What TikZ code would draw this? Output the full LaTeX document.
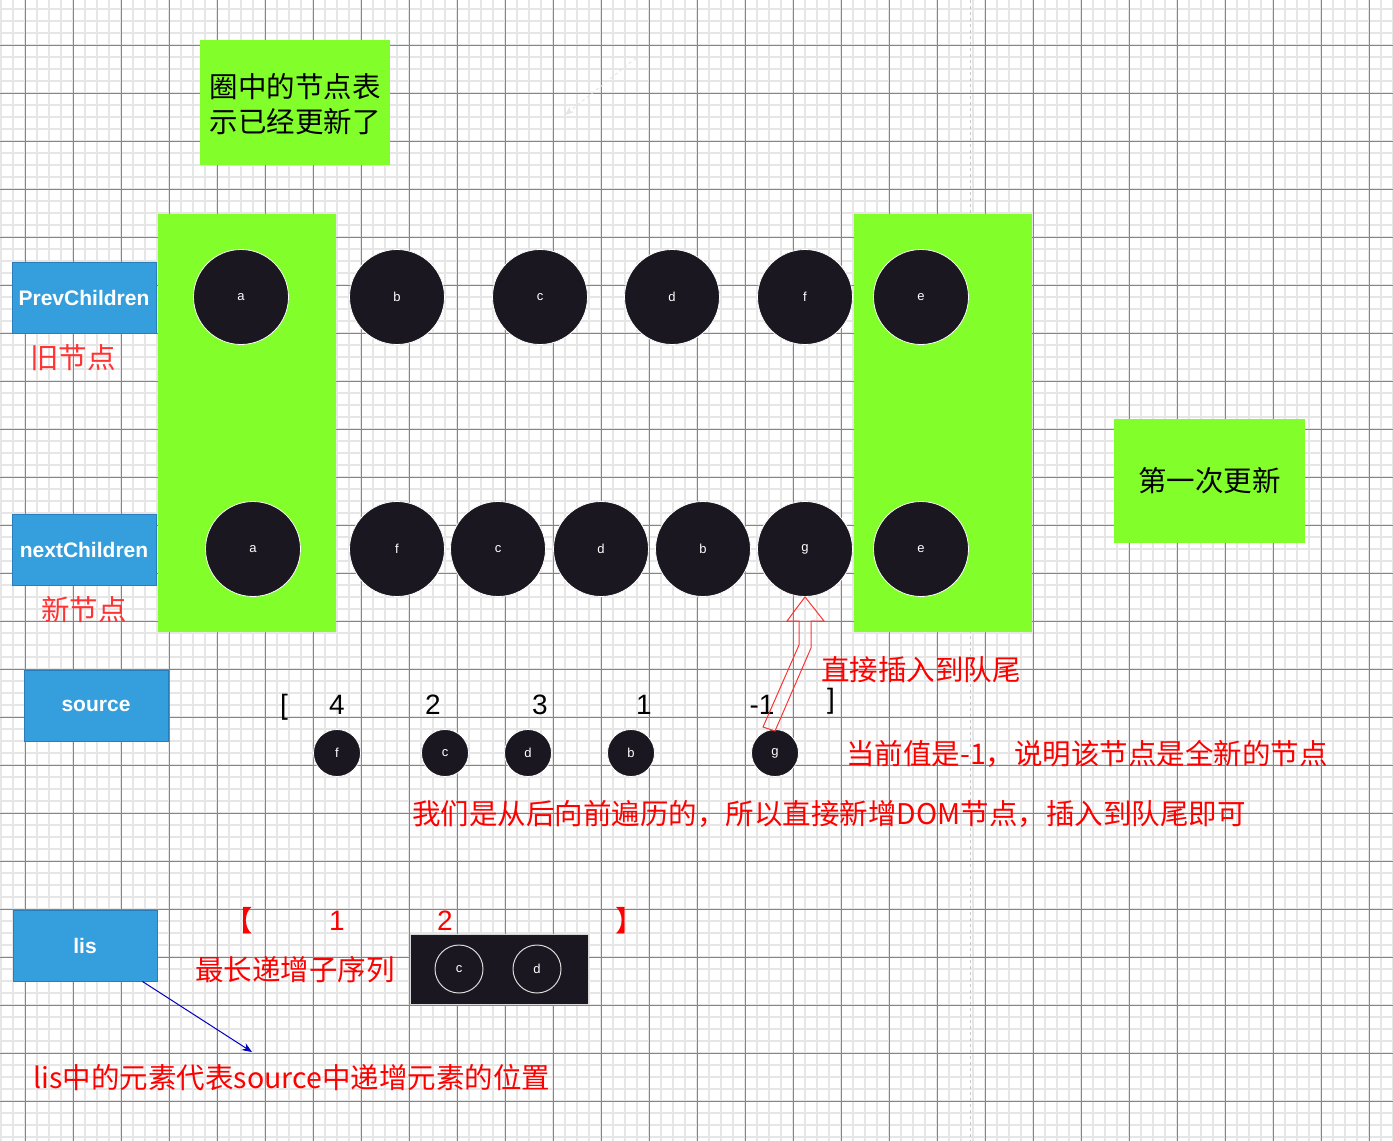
\documentclass[tikz,border=0pt]{standalone}
\usepackage{fontspec}
\setmainfont{Liberation Sans}
\newfontfamily\cjk{Noto Sans CJK SC}
\usetikzlibrary{arrows.meta,positioning}

\definecolor{leaf}{HTML}{82FF2A}
\definecolor{boxblue}{HTML}{359FDD}
\definecolor{boxedge}{HTML}{2A7DBA}
\definecolor{dotfill}{HTML}{1A1720}
\definecolor{gridmin}{HTML}{E6E6E6}
\definecolor{gridmaj}{HTML}{858585}
\definecolor{softred}{HTML}{FF3333}

\tikzset{
  greenbox/.style={fill=leaf, draw=none, inner sep=0pt},
  bluebox/.style={fill=boxblue, draw=boxedge, line width=1pt, text=white,
    minimum width=144pt, minimum height=71pt, inner sep=0pt,
    font=\fontsize{21}{25}\selectfont\bfseries},
  bigdot/.style={circle, fill=dotfill, draw=white, line width=0.8pt,
    minimum size=95pt, inner sep=0pt, text=white, font=\fontsize{13}{15}\selectfont},
  smalldot/.style={bigdot, minimum size=47pt},
  ringdot/.style={circle, draw=white!85!black, line width=1pt, fill=dotfill,
    minimum size=48pt, inner sep=0pt, text=white, font=\fontsize{13}{15}\selectfont},
  cjktext/.style={inner sep=0pt, font=\cjk\fontsize{28.5}{36}\selectfont},
  redtext/.style={cjktext, text=red},
  numtext/.style={inner sep=0pt, font=\fontsize{28}{32}\selectfont},
}

\begin{document}
\begin{tikzpicture}[x=1pt, y=-1pt]
\useasboundingbox (0,0) rectangle (1393,1141);
\fill[white] (0,0) rectangle (1393,1141);

% grid
\foreach \i in {0,...,116}
  \draw[gridmin, line width=1.6pt] (1+12*\i,0) -- (1+12*\i,1141);
\foreach \j in {0,...,94}
  \draw[gridmin, line width=1.6pt] (0,9+12*\j) -- (1393,9+12*\j);
\foreach \i in {0,...,28}
  \draw[gridmaj, line width=0.9pt] (25+48*\i,0) -- (25+48*\i,1141);
\foreach \j in {0,...,22}
  \draw[gridmaj, line width=0.9pt] (0,45+48*\j) -- (1393,45+48*\j);
\draw[black!22, dashed, line width=1pt] (970,0) -- (970,1141);

% faint pointer near the note
\coordinate (hintfrom) at (636,58);
\coordinate (hintto) at (565,115);
\draw[white!90!black, dashed, line width=1pt, -{Stealth[length=9pt]}] (hintfrom) -- (hintto);

% green areas
\node[greenbox, minimum width=190pt, minimum height=125pt] (note) at (295,102.5) {};
\node[align=left, inner sep=0pt, font=\cjk\fontsize{28.5}{35}\selectfont]
  (notetext) at (295,104.5) {圈中的节点表\\示已经更新了};
\node[greenbox, minimum width=178pt, minimum height=418pt] (colleft) at (247,423) {};
\node[greenbox, minimum width=178pt, minimum height=418pt] (colright) at (943,423) {};
\node[greenbox, minimum width=191pt, minimum height=124pt, font=\cjk\fontsize{28.5}{35}\selectfont] (first) at (1209.5,481) {第一次更新};

% labels on the left
\node[bluebox] (prev) at (84,297.5) {PrevChildren};
\node[cjktext, text=softred] (oldtag) at (73,358) {旧节点};
\node[bluebox] (next) at (84,549.5) {nextChildren};
\node[cjktext, text=softred] (newtag) at (84,610) {新节点};
\node[bluebox] (source) at (96,705.5) {source};
\node[bluebox] (lis) at (85,945.5) {lis};

% old children
\node[bigdot] (pa) at (241,297) {a};
\node[bigdot] (pb) at (397,297) {b};
\node[bigdot] (pc) at (540,297) {c};
\node[bigdot] (pd) at (672,297) {d};
\node[bigdot] (pf) at (805,297) {f};
\node[bigdot] (pe) at (921,297) {e};

% new children
\node[bigdot] (na) at (253,549) {a};
\node[bigdot] (nf) at (397,549) {f};
\node[bigdot] (nc) at (498,549) {c};
\node[bigdot] (nd) at (601,549) {d};
\node[bigdot] (nb) at (703,549) {b};
\node[bigdot] (ng) at (805,549) {g};
\node[bigdot] (ne) at (921,549) {e};

% source array
\node[numtext] (lbr) at (284,707) {[};
\node[numtext] (s4) at (337,705) {4};
\node[numtext] (s2) at (433,705) {2};
\node[numtext] (s3) at (540,705) {3};
\node[numtext] (s1) at (644,705) {1};
\node[numtext] (sm) at (762,705) {-1};
\node[numtext] (rbr) at (831,701) {]};
\node[smalldot] (sf) at (337,753) {f};
\node[smalldot] (sc) at (445,753) {c};
\node[smalldot] (sd) at (528,753) {d};
\node[smalldot] (sb) at (631,753) {b};
\node[smalldot] (sg) at (775,753) {g};

% hollow arrow up to g
\draw[red!80, line width=1pt, line join=miter]
  (763,727) -- (799,645) -- (799,621) -- (787,621) -- (ng.south)
  -- (824,621) -- (811,621) -- (811,648) -- (775,731) -- cycle;

% notes
\node[redtext] (tailnote) at (921,670) {直接插入到队尾};
\node[redtext] (minusnote) at (1087,754) {当前值是-1，说明该节点是全新的节点};
\node[redtext] (walknote) at (829,814) {我们是从后向前遍历的，所以直接新增DOM节点，插入到队尾即可};

% lis
\node[redtext] (llbr) at (239,921) {【};
\node[numtext, text=red] (l1) at (337,921) {1};
\node[numtext, text=red] (l2) at (445,921) {2};
\node[redtext] (lrbr) at (630,921) {】};
\node[redtext] (listag) at (295,970) {最长递增子序列};
\node[fill=dotfill, draw=white!85!black, line width=0.8pt, minimum width=178pt,
  minimum height=70pt, inner sep=0pt] (lisbox) at (499,969) {};
\node[ringdot] (lc) at (459,969) {c};
\node[ringdot] (ld) at (537,969) {d};
\node[redtext] (lisnote) at (292,1078) {lis中的元素代表source中递增元素的位置};
\coordinate (lisend) at (252,1052);
\draw[blue!75!black, line width=1pt, -{Stealth[length=10pt, width=8pt]}]
  ([xshift=-15pt]lis.south east) -- (lisend);
\end{tikzpicture}
\end{document}
